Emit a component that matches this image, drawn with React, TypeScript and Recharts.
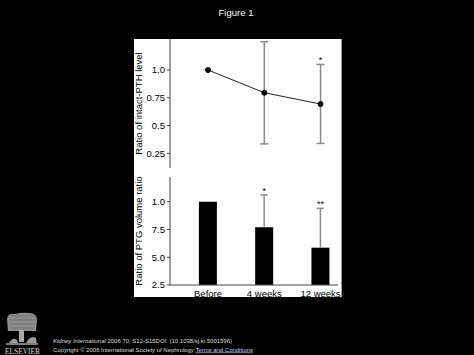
import React from 'react';
import {
  LineChart, Line, XAxis, YAxis, ErrorBar, LabelList, ComposedChart, Bar,
} from 'recharts';

const categories = ['Before', '4 weeks', '12 weeks'];

// Top panel: ratio of intact-PTH level
const pthRatio = [1.0, 0.796, 0.694];
const pthErrLow = [null, 0.46, 0.354];
const pthErrHigh = [null, 0.458, 0.356];
const pthSig = ['', '', '*'];
const pthTicks = [0.25, 0.5, 0.75, 1.0];
const pthTickLabels = ['0.25', '0.5', '0.75', '1.0'];

// Bottom panel: ratio of PTG volume ratio
const ptgRatio = [10.0, 7.69, 5.86];
const ptgUpper = [null, 10.6, 9.4];
const ptgSig = ['', '*', '**'];
const ptgTicks = [2.5, 5, 7.5, 10];
const ptgTickLabels = ['2.5', '5.0', '7.5', '1.0'];

const topData = categories.map((c, i) => ({
  x: i + 1,
  name: c,
  value: pthRatio[i],
  err: pthErrLow[i] == null ? null : [pthErrLow[i], pthErrHigh[i]],
  upper: pthErrHigh[i] == null ? null : pthRatio[i] + (pthErrHigh[i] as number),
  sig: pthSig[i],
}));

const bottomData = categories.map((c, i) => ({
  x: i + 1,
  name: c,
  value: ptgRatio[i],
  whisker: ptgUpper[i] == null ? null : [ptgRatio[i], ptgUpper[i]],
  sig: ptgSig[i],
}));

const FONT = 'Liberation Sans, Arial, Helvetica, sans-serif';
const xDomain = [0.324, 3.31];

const StarLabel = (props: any) => {
  const { x, y, width, value } = props;
  if (!value || x == null || y == null) return null;
  const cx = width != null ? x + width / 2 : x;
  return (
    <text x={cx} y={y - 1} textAnchor="middle" fontSize={9} fontFamily={FONT} fill="#000">
      {value}
    </text>
  );
};

const WhiskerShape = (props: any) => {
  const { x, y, width, height } = props;
  if (x == null || y == null || !height) return null;
  const cx = x + width / 2;
  const top = Math.min(y, y + height);
  const bot = Math.max(y, y + height);
  return (
    <g>
      <line x1={cx} x2={cx} y1={top} y2={bot} stroke="#8a8a8a" strokeWidth={1.5} />
      <line x1={cx - 3.5} x2={cx + 3.5} y1={top} y2={top} stroke="#8a8a8a" strokeWidth={1.5} />
    </g>
  );
};

export default function App() {
  return (
    <div style={{ position: 'absolute', left: 0, top: 0, width: 474, height: 355, background: '#000', overflow: 'hidden' }}>
      <div style={{ position: 'absolute', left: 134, top: 39, width: 207, height: 258, background: '#fff', borderRight: '1px solid #9a9a9a' }} />

      <div style={{ position: 'absolute', left: 134, top: 39 }}>
        <LineChart width={207} height={130} data={topData} margin={{ top: 0, right: 3, bottom: 1, left: 0 }}>
          <XAxis type="number" dataKey="x" domain={xDomain} hide allowDataOverflow />
          <YAxis
            type="number"
            domain={[0.119, 1.279]}
            ticks={pthTicks}
            tickFormatter={(v: number) => pthTickLabels[pthTicks.indexOf(v)]}
            width={36}
            tickSize={3}
            tickMargin={2}
            allowDataOverflow
            axisLine={{ stroke: '#444' }}
            tickLine={{ stroke: '#444' }}
            tick={{ fontSize: 9.5, fill: '#000', fontFamily: FONT }}
            label={{ value: 'Ratio of intact-PTH level', angle: -90, position: 'insideLeft', offset: 5, style: { textAnchor: 'middle', fontSize: 9.5, fill: '#000', fontFamily: FONT } }}
          />
          <Line
            dataKey="value"
            stroke="#222"
            strokeWidth={1}
            isAnimationActive={false}
            dot={{ r: 2.5, fill: '#000', stroke: '#000' }}
          >
            <ErrorBar dataKey="err" width={4} stroke="#8a8a8a" strokeWidth={1.5} direction="y" />
          </Line>
          <Line dataKey="upper" stroke="none" dot={false} isAnimationActive={false}>
            <LabelList dataKey="sig" content={StarLabel} />
          </Line>
        </LineChart>
      </div>

      <div style={{ position: 'absolute', left: 134, top: 170 }}>
        <ComposedChart width={207} height={145} data={bottomData} margin={{ top: 7, right: 3, bottom: 15, left: 0 }} barGap={-18}>
          <XAxis
            type="number"
            dataKey="x"
            domain={xDomain}
            ticks={[1, 2, 3]}
            allowDataOverflow
            tickFormatter={(v: number) => categories[v - 1]}
            height={15}
            tickLine={false}
            tickSize={0}
            tickMargin={5}
            axisLine={{ stroke: '#444' }}
            tick={{ fontSize: 9.5, fill: '#000', fontFamily: FONT }}
          />
          <YAxis
            type="number"
            domain={[2.5, 12.22]}
            ticks={ptgTicks}
            tickFormatter={(v: number) => ptgTickLabels[ptgTicks.indexOf(v)]}
            width={36}
            tickSize={3}
            tickMargin={2}
            allowDataOverflow
            axisLine={{ stroke: '#444' }}
            tickLine={{ stroke: '#444' }}
            tick={{ fontSize: 9.5, fill: '#000', fontFamily: FONT }}
            label={{ value: 'Ratio of PTG volume ratio', angle: -90, position: 'insideLeft', offset: 5, style: { textAnchor: 'middle', fontSize: 9.5, fill: '#000', fontFamily: FONT } }}
          />
          <Bar dataKey="value" fill="#000" barSize={18} isAnimationActive={false} />
          <Bar dataKey="whisker" barSize={18} isAnimationActive={false} shape={WhiskerShape}>
            <LabelList dataKey="sig" content={StarLabel} />
          </Bar>
        </ComposedChart>
      </div>

      <svg width={474} height={355} style={{ position: 'absolute', left: 0, top: 0, pointerEvents: 'none' }}>
        <text x={236} y={16} textAnchor="middle" fontSize={9.5} fontFamily={FONT} fill="#fff">Figure 1</text>

        <g>
          <path d="M7 319 Q8 313 14 314 Q22 312 30 313 Q37 314 37 320 L36 331 L8 331 Z" fill="#8c8c8c" />
          <path d="M10 316 L34 316 M9 320 L35 320 M9 324 L35 324 M10 328 L34 328" stroke="#6a6a6a" strokeWidth={0.8} />
          <rect x={19} y={330} width={5} height={12} fill="#a8a8a8" />
          <path d="M8 345 Q12 336 17 340 L19 345 Z" fill="#9a9a9a" />
          <path d="M25 345 Q30 334 36 338 L37 345 Z" fill="#9a9a9a" />
          <rect x={6} y={343} width={32} height={2} fill="#7a7a7a" />
          <text x={5} y={354} fontSize={8} fontFamily="Liberation Serif, Times New Roman, serif" fill="#ddd" textLength={35} lengthAdjust="spacingAndGlyphs">ELSEVIER</text>
        </g>

        <text x={53} y={343} fontSize={6} fontFamily={FONT} fill="#ddd" textLength={179} lengthAdjust="spacingAndGlyphs">
          <tspan fontStyle="italic">Kidney International</tspan>
          <tspan> 2006 70, S12-S15DOI: (10.1038/sj.ki.5001596)</tspan>
        </text>
        <text x={53} y={351.5} fontSize={6} fontFamily={FONT} fill="#ddd" textLength={200} lengthAdjust="spacingAndGlyphs">
          <tspan>Copyright © 2006 International Society of Nephrology </tspan>
          <tspan fill="#c8c8f0" style={{ textDecoration: 'underline' }}>Terms and Conditions</tspan>
        </text>
      </svg>
    </div>
  );
}
